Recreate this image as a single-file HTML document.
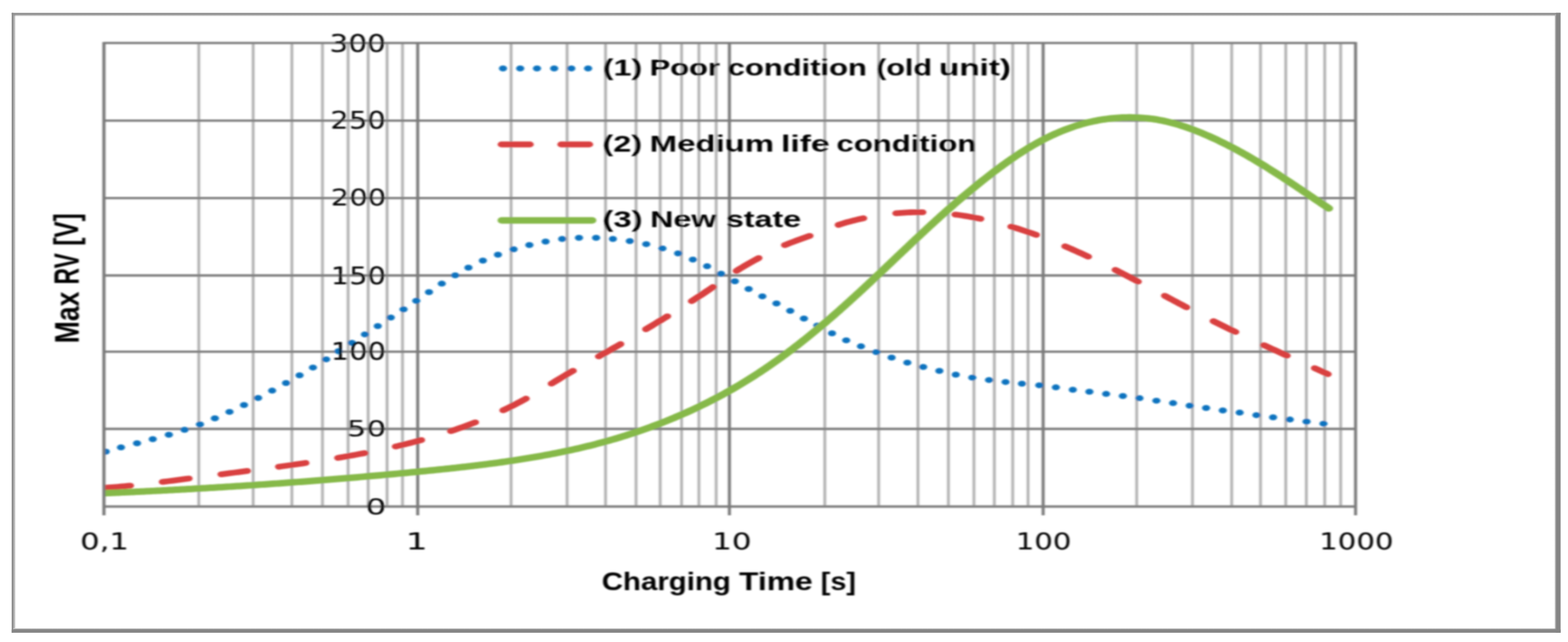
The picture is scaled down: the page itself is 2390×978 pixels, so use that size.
<!DOCTYPE html>
<html><head><meta charset="utf-8"><style>
html,body{margin:0;padding:0;background:#fff;}
body{width:2390px;height:978px;overflow:hidden;}
svg{display:block;}
</style></head><body>
<svg width="2390" height="978" viewBox="0 0 2390 978">
<defs><filter id="bl" x="0" y="0" width="100%" height="100%" filterUnits="userSpaceOnUse"><feGaussianBlur stdDeviation="1.4 1.1"/></filter></defs>
<rect width="2390" height="978" fill="#ffffff"/>
<g filter="url(#bl)">
<g stroke="#b1b1b1" stroke-width="4.2">
<line x1="303.0" y1="65.5" x2="303.0" y2="771.6"/>
<line x1="385.9" y1="65.5" x2="385.9" y2="771.6"/>
<line x1="444.9" y1="65.5" x2="444.9" y2="771.6"/>
<line x1="491.5" y1="65.5" x2="491.5" y2="771.6"/>
<line x1="530.6" y1="65.5" x2="530.6" y2="771.6"/>
<line x1="561.2" y1="65.5" x2="561.2" y2="771.6"/>
<line x1="590.0" y1="65.5" x2="590.0" y2="771.6"/>
<line x1="613.5" y1="65.5" x2="613.5" y2="771.6"/>
<line x1="779.0" y1="65.5" x2="779.0" y2="771.6"/>
<line x1="864.4" y1="65.5" x2="864.4" y2="771.6"/>
<line x1="923.0" y1="65.5" x2="923.0" y2="771.6"/>
<line x1="969.5" y1="65.5" x2="969.5" y2="771.6"/>
<line x1="1006.3" y1="65.5" x2="1006.3" y2="771.6"/>
<line x1="1038.9" y1="65.5" x2="1038.9" y2="771.6"/>
<line x1="1065.3" y1="65.5" x2="1065.3" y2="771.6"/>
<line x1="1091.6" y1="65.5" x2="1091.6" y2="771.6"/>
<line x1="1257.2" y1="65.5" x2="1257.2" y2="771.6"/>
<line x1="1339.3" y1="65.5" x2="1339.3" y2="771.6"/>
<line x1="1399.2" y1="65.5" x2="1399.2" y2="771.6"/>
<line x1="1445.6" y1="65.5" x2="1445.6" y2="771.6"/>
<line x1="1484.5" y1="65.5" x2="1484.5" y2="771.6"/>
<line x1="1515.6" y1="65.5" x2="1515.6" y2="771.6"/>
<line x1="1543.6" y1="65.5" x2="1543.6" y2="771.6"/>
<line x1="1567.0" y1="65.5" x2="1567.0" y2="771.6"/>
<line x1="1732.6" y1="65.5" x2="1732.6" y2="771.6"/>
<line x1="1817.6" y1="65.5" x2="1817.6" y2="771.6"/>
<line x1="1877.4" y1="65.5" x2="1877.4" y2="771.6"/>
<line x1="1921.3" y1="65.5" x2="1921.3" y2="771.6"/>
<line x1="1959.8" y1="65.5" x2="1959.8" y2="771.6"/>
<line x1="1991.2" y1="65.5" x2="1991.2" y2="771.6"/>
<line x1="2019.2" y1="65.5" x2="2019.2" y2="771.6"/>
<line x1="2043.5" y1="65.5" x2="2043.5" y2="771.6"/>
</g>
<g stroke="#808080" stroke-width="3.6">
<line x1="158.5" y1="65.5" x2="2066.5" y2="65.5"/>
<line x1="158.5" y1="183.7" x2="2066.5" y2="183.7"/>
<line x1="158.5" y1="301.7" x2="2066.5" y2="301.7"/>
<line x1="158.5" y1="419.6" x2="2066.5" y2="419.6"/>
<line x1="158.5" y1="535.7" x2="2066.5" y2="535.7"/>
<line x1="158.5" y1="653.4" x2="2066.5" y2="653.4"/>
<line x1="158.5" y1="771.6" x2="2066.5" y2="771.6"/>
</g><g stroke="#7a7a7a" stroke-width="4.6">
<line x1="158.3" y1="64" x2="158.3" y2="785"/>
<line x1="636.7" y1="64" x2="636.7" y2="785"/>
<line x1="1111.8" y1="64" x2="1111.8" y2="785"/>
<line x1="1590.0" y1="64" x2="1590.0" y2="785"/>
<line x1="2066.2" y1="64" x2="2066.2" y2="785"/>
</g>
<defs><clipPath id="pc"><rect x="159.3" y="40" width="1950" height="731"/></clipPath></defs>
<g clip-path="url(#pc)">
<g fill="#0a73bf">
<ellipse cx="161.2" cy="688.0" rx="6.2" ry="4.5"/>
<ellipse cx="184.4" cy="681.6" rx="6.2" ry="4.5"/>
<ellipse cx="208.9" cy="675.3" rx="6.2" ry="4.5"/>
<ellipse cx="232.8" cy="669.0" rx="6.2" ry="4.5"/>
<ellipse cx="257.4" cy="662.2" rx="6.2" ry="4.5"/>
<ellipse cx="281.3" cy="654.8" rx="6.2" ry="4.5"/>
<ellipse cx="304.8" cy="646.5" rx="6.2" ry="4.5"/>
<ellipse cx="327.5" cy="637.3" rx="6.2" ry="4.5"/>
<ellipse cx="349.8" cy="627.4" rx="6.2" ry="4.5"/>
<ellipse cx="371.9" cy="617.0" rx="6.2" ry="4.5"/>
<ellipse cx="393.4" cy="606.2" rx="6.2" ry="4.5"/>
<ellipse cx="414.8" cy="595.1" rx="6.2" ry="4.5"/>
<ellipse cx="436.0" cy="583.5" rx="6.2" ry="4.5"/>
<ellipse cx="456.6" cy="571.8" rx="6.2" ry="4.5"/>
<ellipse cx="477.0" cy="559.9" rx="6.2" ry="4.5"/>
<ellipse cx="497.1" cy="547.4" rx="6.2" ry="4.5"/>
<ellipse cx="515.9" cy="535.0" rx="6.2" ry="4.5"/>
<ellipse cx="536.3" cy="522.3" rx="6.2" ry="4.5"/>
<ellipse cx="556.2" cy="509.4" rx="6.2" ry="4.5"/>
<ellipse cx="575.8" cy="496.7" rx="6.2" ry="4.5"/>
<ellipse cx="595.6" cy="483.8" rx="6.2" ry="4.5"/>
<ellipse cx="615.1" cy="471.2" rx="6.2" ry="4.5"/>
<ellipse cx="634.5" cy="458.3" rx="6.2" ry="4.5"/>
<ellipse cx="653.9" cy="445.0" rx="6.2" ry="4.5"/>
<ellipse cx="673.4" cy="432.1" rx="6.2" ry="4.5"/>
<ellipse cx="693.8" cy="419.4" rx="6.2" ry="4.5"/>
<ellipse cx="714.0" cy="407.7" rx="6.2" ry="4.5"/>
<ellipse cx="736.0" cy="397.0" rx="6.2" ry="4.5"/>
<ellipse cx="759.0" cy="388.0" rx="6.2" ry="4.5"/>
<ellipse cx="782.8" cy="379.8" rx="6.2" ry="4.5"/>
<ellipse cx="806.9" cy="373.3" rx="6.2" ry="4.5"/>
<ellipse cx="831.6" cy="368.0" rx="6.2" ry="4.5"/>
<ellipse cx="856.9" cy="364.0" rx="6.2" ry="4.5"/>
<ellipse cx="882.5" cy="362.2" rx="6.2" ry="4.5"/>
<ellipse cx="908.6" cy="362.2" rx="6.2" ry="4.5"/>
<ellipse cx="934.2" cy="364.0" rx="6.2" ry="4.5"/>
<ellipse cx="960.0" cy="367.3" rx="6.2" ry="4.5"/>
<ellipse cx="985.0" cy="371.9" rx="6.2" ry="4.5"/>
<ellipse cx="1009.7" cy="378.4" rx="6.2" ry="4.5"/>
<ellipse cx="1033.6" cy="386.0" rx="6.2" ry="4.5"/>
<ellipse cx="1056.1" cy="395.4" rx="6.2" ry="4.5"/>
<ellipse cx="1077.8" cy="405.6" rx="6.2" ry="4.5"/>
<ellipse cx="1099.0" cy="416.9" rx="6.2" ry="4.5"/>
<ellipse cx="1120.1" cy="428.5" rx="6.2" ry="4.5"/>
<ellipse cx="1141.1" cy="440.2" rx="6.2" ry="4.5"/>
<ellipse cx="1162.0" cy="451.4" rx="6.2" ry="4.5"/>
<ellipse cx="1183.5" cy="462.2" rx="6.2" ry="4.5"/>
<ellipse cx="1204.5" cy="473.5" rx="6.2" ry="4.5"/>
<ellipse cx="1225.4" cy="485.2" rx="6.2" ry="4.5"/>
<ellipse cx="1245.8" cy="496.0" rx="6.2" ry="4.5"/>
<ellipse cx="1268.2" cy="507.7" rx="6.2" ry="4.5"/>
<ellipse cx="1289.8" cy="518.4" rx="6.2" ry="4.5"/>
<ellipse cx="1312.3" cy="527.6" rx="6.2" ry="4.5"/>
<ellipse cx="1335.6" cy="536.4" rx="6.2" ry="4.5"/>
<ellipse cx="1359.0" cy="544.7" rx="6.2" ry="4.5"/>
<ellipse cx="1383.0" cy="552.4" rx="6.2" ry="4.5"/>
<ellipse cx="1407.2" cy="559.0" rx="6.2" ry="4.5"/>
<ellipse cx="1431.8" cy="565.0" rx="6.2" ry="4.5"/>
<ellipse cx="1456.8" cy="570.7" rx="6.2" ry="4.5"/>
<ellipse cx="1482.0" cy="575.3" rx="6.2" ry="4.5"/>
<ellipse cx="1507.5" cy="578.9" rx="6.2" ry="4.5"/>
<ellipse cx="1532.7" cy="581.9" rx="6.2" ry="4.5"/>
<ellipse cx="1557.7" cy="584.5" rx="6.2" ry="4.5"/>
<ellipse cx="1584.1" cy="586.9" rx="6.2" ry="4.5"/>
<ellipse cx="1609.4" cy="590.1" rx="6.2" ry="4.5"/>
<ellipse cx="1635.2" cy="593.7" rx="6.2" ry="4.5"/>
<ellipse cx="1660.5" cy="596.8" rx="6.2" ry="4.5"/>
<ellipse cx="1686.0" cy="600.1" rx="6.2" ry="4.5"/>
<ellipse cx="1711.5" cy="603.3" rx="6.2" ry="4.5"/>
<ellipse cx="1736.8" cy="606.6" rx="6.2" ry="4.5"/>
<ellipse cx="1762.6" cy="610.4" rx="6.2" ry="4.5"/>
<ellipse cx="1788.0" cy="614.1" rx="6.2" ry="4.5"/>
<ellipse cx="1813.4" cy="618.0" rx="6.2" ry="4.5"/>
<ellipse cx="1838.4" cy="621.5" rx="6.2" ry="4.5"/>
<ellipse cx="1863.8" cy="625.2" rx="6.2" ry="4.5"/>
<ellipse cx="1889.5" cy="628.6" rx="6.2" ry="4.5"/>
<ellipse cx="1915.1" cy="632.4" rx="6.2" ry="4.5"/>
<ellipse cx="1940.5" cy="635.7" rx="6.2" ry="4.5"/>
<ellipse cx="1966.0" cy="639.1" rx="6.2" ry="4.5"/>
<ellipse cx="1991.5" cy="642.2" rx="6.2" ry="4.5"/>
<ellipse cx="2017.3" cy="645.4" rx="6.2" ry="4.5"/>
</g>
<g transform="scale(1.32,1)" fill="none" stroke="#d9413f" stroke-width="8.8" stroke-linecap="round" stroke-linejoin="round">
<path d="M119.89,743.04 L122.66,742.83 L125.42,742.59 L128.19,742.34 L130.95,742.08 L133.72,741.80 L136.49,741.51 L139.25,741.20 L142.02,740.88 L144.79,740.55 L147.56,740.21 L150.32,739.85"/>
<path d="M187.76,734.17 L190.52,733.71 L193.27,733.24 L196.03,732.77 L198.78,732.30 L201.53,731.82 L204.28,731.34 L207.03,730.87 L209.78,730.39 L212.53,729.91 L215.28,729.44 L218.02,728.96"/>
<path d="M255.48,722.56 L258.21,722.10 L260.94,721.64 L263.67,721.17 L266.40,720.71 L269.13,720.24 L271.85,719.78 L274.58,719.32 L277.31,718.85 L280.04,718.38 L282.77,717.92 L285.50,717.45"/>
<path d="M321.95,711.05 L324.77,710.54 L327.58,710.02 L330.40,709.51 L333.21,708.99 L336.03,708.47 L338.84,707.95 L341.66,707.42 L344.48,706.88 L347.29,706.35 L350.11,705.81 L352.92,705.26"/>
<path d="M390.22,697.52 L393.04,696.89 L395.86,696.25 L398.67,695.61 L401.49,694.96 L404.30,694.30 L407.11,693.63 L409.91,692.95 L412.72,692.27 L415.52,691.58 L418.32,690.87 L421.11,690.17"/>
<path d="M456.81,680.19 L459.53,679.35 L462.25,678.50 L464.96,677.64 L467.67,676.77 L470.37,675.89 L473.07,674.99 L475.76,674.09 L478.45,673.17 L481.13,672.24 L483.81,671.30 L486.48,670.34"/>
<path d="M520.62,656.77 L523.21,655.63 L525.80,654.47 L528.38,653.29 L530.95,652.10 L533.52,650.90 L536.08,649.68 L538.64,648.44 L541.18,647.19 L543.72,645.93 L546.25,644.65 L548.78,643.35"/>
<path d="M581.03,625.04 L583.47,623.50 L585.91,621.95 L588.33,620.39 L590.75,618.80 L593.15,617.21 L595.55,615.59 L597.94,613.96 L600.31,612.32 L602.68,610.65 L605.03,608.97 L607.37,607.28"/>
<path d="M636.87,584.40 L639.12,582.60 L641.36,580.80 L643.61,579.00 L645.85,577.21 L648.10,575.42 L650.35,573.63 L652.60,571.85 L654.86,570.08 L657.12,568.31 L659.39,566.56 L661.67,564.81"/>
<path d="M691.40,542.95 L693.70,541.27 L695.99,539.58 L698.28,537.89 L700.57,536.20 L702.86,534.50 L705.14,532.80 L707.42,531.09 L709.70,529.38 L711.98,527.67 L714.25,525.95 L716.52,524.23"/>
<path d="M745.87,501.55 L748.13,499.77 L750.39,497.98 L752.65,496.20 L754.91,494.40 L757.17,492.61 L759.42,490.81 L761.67,489.02 L763.92,487.21 L766.17,485.41 L768.42,483.60 L770.66,481.80"/>
<path d="M798.68,458.76 L800.95,456.83 L803.22,454.90 L805.48,452.96 L807.73,451.02 L809.98,449.06 L812.22,447.10 L814.46,445.13 L816.68,443.15 L818.90,441.17 L821.11,439.17 L823.31,437.16"/>
<path d="M850.48,412.60 L852.73,410.74 L855.00,408.91 L857.29,407.10 L859.60,405.30 L861.92,403.52 L864.25,401.76 L866.60,400.02 L868.96,398.28 L871.32,396.56 L873.69,394.84 L876.06,393.13"/>
<path d="M906.20,373.39 L908.76,372.02 L911.34,370.68 L913.93,369.37 L916.55,368.09 L919.18,366.83 L921.81,365.58 L924.45,364.34 L927.09,363.10 L929.73,361.85 L932.37,360.58 L935.00,359.30"/>
<path d="M968.19,342.62 L970.74,341.52 L973.30,340.46 L975.87,339.45 L978.45,338.47 L981.05,337.53 L983.67,336.62 L986.31,335.74 L988.96,334.90 L991.63,334.08 L994.32,333.29 L997.02,332.52"/>
<path d="M1034.79,324.90 L1037.58,324.58 L1040.38,324.30 L1043.16,324.05 L1045.95,323.83 L1048.73,323.65 L1051.51,323.51 L1054.29,323.40 L1057.06,323.33 L1059.83,323.28 L1062.60,323.28 L1065.36,323.30"/>
<path d="M1102.99,326.80 L1105.67,327.27 L1108.35,327.76 L1111.03,328.28 L1113.70,328.82 L1116.36,329.39 L1119.03,329.99 L1121.68,330.61 L1124.34,331.26 L1126.99,331.93 L1129.63,332.62 L1132.27,333.34"/>
<path d="M1167.62,345.22 L1170.27,346.27 L1172.92,347.35 L1175.56,348.44 L1178.20,349.55 L1180.83,350.68 L1183.45,351.83 L1186.06,352.99 L1188.67,354.17 L1191.28,355.37 L1193.87,356.58 L1196.46,357.81"/>
<path d="M1229.94,375.24 L1232.39,376.63 L1234.84,378.02 L1237.28,379.42 L1239.71,380.84 L1242.14,382.26 L1244.56,383.69 L1246.98,385.12 L1249.39,386.57 L1251.79,388.02 L1254.19,389.49 L1256.58,390.96"/>
<path d="M1287.96,411.16 L1290.35,412.76 L1292.74,414.36 L1295.13,415.97 L1297.51,417.58 L1299.89,419.20 L1302.27,420.83 L1304.65,422.45 L1307.02,424.08 L1309.39,425.71 L1311.76,427.35 L1314.12,428.99"/>
<path d="M1344.99,450.60 L1347.26,452.20 L1349.54,453.80 L1351.81,455.40 L1354.09,456.99 L1356.36,458.59 L1358.64,460.18 L1360.92,461.78 L1363.20,463.37 L1365.48,464.96 L1367.76,466.55 L1370.05,468.13"/>
<path d="M1401.13,489.21 L1403.43,490.72 L1405.74,492.23 L1408.05,493.74 L1410.36,495.24 L1412.68,496.74 L1415.00,498.23 L1417.32,499.72 L1419.65,501.21 L1421.98,502.69 L1424.31,504.16 L1426.65,505.64"/>
<path d="M1459.53,525.88 L1461.94,527.33 L1464.35,528.79 L1466.76,530.24 L1469.17,531.69 L1471.59,533.13 L1474.00,534.58 L1476.42,536.02 L1478.83,537.47 L1481.25,538.91 L1483.66,540.35 L1486.08,541.79"/>
<path d="M1518.12,560.84 L1519.51,561.67 L1520.90,562.50 L1522.29,563.33 L1523.68,564.16 L1525.07,564.99 L1526.45,565.82 L1527.84,566.65 L1529.22,567.48 L1530.61,568.31 L1531.99,569.14 L1533.37,569.97"/>
</g>
<g transform="scale(1.32,1)"><path d="M120.02,751.36 L122.40,751.23 L124.78,751.09 L127.16,750.96 L129.55,750.82 L131.93,750.68 L134.31,750.54 L136.69,750.40 L139.07,750.26 L141.45,750.12 L143.82,749.97 L146.20,749.83 L148.58,749.68 L150.96,749.54 L153.34,749.39 L155.71,749.24 L158.09,749.10 L160.47,748.95 L162.84,748.79 L165.22,748.64 L167.59,748.49 L169.97,748.34 L172.34,748.18 L174.72,748.03 L177.09,747.87 L179.46,747.71 L181.84,747.55 L184.21,747.40 L186.58,747.24 L188.96,747.07 L191.33,746.91 L193.70,746.75 L196.07,746.58 L198.44,746.42 L200.81,746.25 L203.18,746.09 L205.55,745.92 L207.92,745.75 L210.29,745.58 L212.66,745.41 L215.03,745.23 L217.40,745.06 L219.77,744.89 L222.14,744.71 L224.51,744.54 L226.87,744.36 L229.24,744.18 L231.61,744.00 L233.98,743.82 L236.34,743.64 L238.71,743.46 L241.08,743.27 L243.44,743.09 L245.81,742.90 L248.17,742.72 L250.54,742.53 L252.90,742.34 L255.27,742.15 L257.63,741.96 L260.00,741.77 L262.36,741.57 L264.73,741.38 L267.09,741.19 L269.46,740.99 L271.82,740.79 L274.18,740.59 L276.55,740.40 L278.91,740.19 L281.27,739.99 L283.64,739.79 L286.00,739.59 L288.36,739.38 L290.72,739.18 L293.09,738.97 L295.45,738.76 L297.81,738.55 L300.17,738.34 L302.53,738.13 L304.89,737.92 L307.26,737.71 L309.62,737.49 L311.98,737.28 L314.34,737.06 L316.70,736.84 L319.06,736.62 L321.42,736.40 L323.78,736.18 L326.14,735.96 L328.50,735.74 L330.86,735.51 L333.22,735.29 L335.58,735.06 L337.94,734.83 L340.30,734.60 L342.66,734.37 L345.02,734.14 L347.38,733.91 L349.74,733.67 L352.10,733.44 L354.46,733.20 L356.82,732.97 L359.17,732.73 L361.53,732.49 L363.89,732.25 L366.25,732.00 L368.61,731.76 L370.97,731.52 L373.33,731.27 L375.69,731.03 L378.05,730.78 L380.40,730.53 L382.76,730.28 L385.12,730.03 L387.48,729.78 L389.84,729.52 L392.20,729.27 L394.56,729.01 L396.91,728.75 L399.27,728.49 L401.63,728.24 L403.99,727.97 L406.35,727.71 L408.71,727.45 L411.06,727.18 L413.42,726.92 L415.78,726.65 L418.14,726.38 L420.50,726.11 L422.86,725.84 L425.22,725.57 L427.57,725.30 L429.93,725.02 L432.29,724.75 L434.65,724.47 L437.01,724.19 L439.37,723.91 L441.73,723.63 L444.09,723.35 L446.45,723.07 L448.80,722.78 L451.16,722.50 L453.52,722.21 L455.88,721.92 L458.24,721.63 L460.60,721.34 L462.96,721.05 L465.32,720.76 L467.68,720.46 L470.04,720.17 L472.40,719.87 L474.76,719.57 L477.12,719.27 L479.48,718.97 L481.84,718.67 L484.20,718.37 L486.56,718.06 L488.92,717.75 L491.28,717.45 L493.64,717.14 L496.01,716.83 L498.37,716.51 L500.73,716.20 L503.09,715.88 L505.45,715.57 L507.81,715.24 L510.17,714.92 L512.53,714.60 L514.89,714.27 L517.25,713.94 L519.60,713.61 L521.96,713.27 L524.32,712.94 L526.68,712.60 L529.04,712.25 L531.39,711.91 L533.75,711.56 L536.10,711.20 L538.46,710.85 L540.81,710.49 L543.17,710.13 L545.52,709.76 L547.87,709.39 L550.22,709.02 L552.57,708.64 L554.92,708.26 L557.27,707.87 L559.62,707.48 L561.96,707.09 L564.31,706.69 L566.65,706.29 L569.00,705.88 L571.34,705.47 L573.68,705.06 L576.02,704.64 L578.36,704.21 L580.70,703.78 L583.03,703.35 L585.37,702.91 L587.70,702.46 L590.03,702.01 L592.36,701.55 L594.69,701.09 L597.02,700.63 L599.35,700.15 L601.67,699.67 L604.00,699.19 L606.32,698.70 L608.64,698.20 L610.96,697.70 L613.27,697.19 L615.59,696.68 L617.90,696.16 L620.21,695.63 L622.52,695.10 L624.83,694.56 L627.13,694.01 L629.44,693.46 L631.74,692.90 L634.04,692.33 L636.33,691.75 L638.63,691.17 L640.92,690.58 L643.21,689.99 L645.50,689.38 L647.79,688.77 L650.07,688.15 L652.35,687.52 L654.63,686.89 L656.91,686.25 L659.19,685.60 L661.46,684.94 L663.73,684.27 L666.00,683.60 L668.26,682.91 L670.52,682.22 L672.78,681.52 L675.04,680.81 L677.29,680.10 L679.54,679.37 L681.79,678.63 L684.04,677.89 L686.28,677.14 L688.52,676.37 L690.76,675.60 L692.99,674.82 L695.23,674.03 L697.45,673.23 L699.68,672.42 L701.90,671.60 L704.12,670.77 L706.34,669.94 L708.55,669.09 L710.76,668.23 L712.97,667.36 L715.17,666.49 L717.37,665.60 L719.56,664.71 L721.76,663.80 L723.95,662.89 L726.13,661.97 L728.31,661.03 L730.49,660.09 L732.67,659.14 L734.84,658.18 L737.00,657.21 L739.17,656.23 L741.33,655.24 L743.48,654.24 L745.63,653.24 L747.78,652.22 L749.92,651.20 L752.06,650.16 L754.20,649.12 L756.33,648.07 L758.45,647.01 L760.57,645.94 L762.69,644.86 L764.81,643.77 L766.91,642.67 L769.02,641.57 L771.12,640.45 L773.21,639.33 L775.30,638.19 L777.39,637.05 L779.47,635.90 L781.55,634.74 L783.62,633.58 L785.68,632.40 L787.75,631.21 L789.80,630.02 L791.85,628.82 L793.90,627.61 L795.94,626.39 L797.98,625.16 L800.01,623.92 L802.04,622.67 L804.06,621.42 L806.07,620.16 L808.08,618.89 L810.09,617.61 L812.09,616.32 L814.08,615.02 L816.07,613.72 L818.05,612.40 L820.03,611.08 L822.00,609.75 L823.96,608.41 L825.92,607.06 L827.88,605.71 L829.83,604.35 L831.77,602.97 L833.70,601.59 L835.63,600.21 L837.56,598.81 L839.48,597.41 L841.39,595.99 L843.29,594.57 L845.19,593.14 L847.09,591.71 L848.97,590.26 L850.85,588.81 L852.73,587.35 L854.60,585.88 L856.46,584.41 L858.31,582.92 L860.17,581.43 L862.01,579.93 L863.85,578.43 L865.68,576.92 L867.51,575.40 L869.33,573.87 L871.14,572.34 L872.95,570.79 L874.76,569.25 L876.56,567.69 L878.35,566.13 L880.14,564.56 L881.92,562.99 L883.69,561.41 L885.46,559.82 L887.23,558.23 L888.99,556.63 L890.74,555.03 L892.49,553.41 L894.24,551.80 L895.98,550.17 L897.71,548.55 L899.44,546.91 L901.16,545.27 L902.88,543.62 L904.60,541.97 L906.31,540.32 L908.01,538.66 L909.71,536.99 L911.40,535.32 L913.09,533.64 L914.78,531.96 L916.46,530.27 L918.13,528.58 L919.81,526.88 L921.47,525.18 L923.13,523.48 L924.79,521.77 L926.44,520.05 L928.09,518.33 L929.74,516.61 L931.38,514.88 L933.01,513.15 L934.64,511.41 L936.27,509.68 L937.90,507.93 L939.51,506.19 L941.13,504.44 L942.74,502.68 L944.35,500.92 L945.95,499.16 L947.55,497.40 L949.14,495.63 L950.74,493.86 L952.32,492.09 L953.91,490.31 L955.49,488.53 L957.06,486.75 L958.64,484.96 L960.20,483.17 L961.77,481.38 L963.33,479.59 L964.89,477.79 L966.45,476.00 L968.00,474.20 L969.55,472.39 L971.09,470.59 L972.63,468.78 L974.17,466.97 L975.71,465.16 L977.24,463.35 L978.77,461.54 L980.30,459.72 L981.82,457.90 L983.34,456.09 L984.86,454.27 L986.37,452.44 L987.88,450.62 L989.39,448.80 L990.90,446.97 L992.40,445.14 L993.91,443.31 L995.41,441.49 L996.91,439.66 L998.40,437.82 L999.90,435.99 L1001.39,434.16 L1002.88,432.32 L1004.37,430.49 L1005.85,428.65 L1007.34,426.81 L1008.82,424.98 L1010.30,423.14 L1011.79,421.30 L1013.27,419.46 L1014.74,417.62 L1016.22,415.78 L1017.70,413.94 L1019.17,412.10 L1020.65,410.26 L1022.12,408.41 L1023.60,406.57 L1025.07,404.73 L1026.54,402.89 L1028.02,401.04 L1029.49,399.20 L1030.96,397.36 L1032.43,395.51 L1033.90,393.67 L1035.37,391.83 L1036.85,389.99 L1038.32,388.14 L1039.79,386.30 L1041.26,384.46 L1042.74,382.62 L1044.21,380.78 L1045.68,378.94 L1047.16,377.10 L1048.64,375.26 L1050.11,373.42 L1051.59,371.58 L1053.07,369.74 L1054.55,367.91 L1056.03,366.07 L1057.51,364.24 L1059.00,362.40 L1060.48,360.57 L1061.97,358.74 L1063.46,356.90 L1064.95,355.07 L1066.44,353.24 L1067.93,351.42 L1069.43,349.59 L1070.93,347.76 L1072.43,345.94 L1073.93,344.12 L1075.43,342.29 L1076.94,340.47 L1078.45,338.66 L1079.96,336.84 L1081.48,335.02 L1082.99,333.21 L1084.51,331.40 L1086.04,329.59 L1087.56,327.78 L1089.09,325.97 L1090.62,324.17 L1092.16,322.36 L1093.70,320.56 L1095.24,318.76 L1096.79,316.97 L1098.34,315.17 L1099.89,313.38 L1101.44,311.59 L1103.01,309.80 L1104.57,308.01 L1106.14,306.23 L1107.71,304.45 L1109.29,302.67 L1110.87,300.89 L1112.45,299.12 L1114.04,297.35 L1115.64,295.58 L1117.24,293.81 L1118.84,292.05 L1120.45,290.29 L1122.06,288.53 L1123.68,286.78 L1125.30,285.02 L1126.93,283.28 L1128.56,281.53 L1130.20,279.79 L1131.84,278.05 L1133.49,276.31 L1135.15,274.58 L1136.81,272.85 L1138.48,271.12 L1140.15,269.40 L1141.82,267.68 L1143.51,265.96 L1145.20,264.25 L1146.89,262.54 L1148.59,260.83 L1150.30,259.13 L1152.02,257.43 L1153.74,255.74 L1155.47,254.06 L1157.20,252.38 L1158.94,250.70 L1160.69,249.04 L1162.45,247.38 L1164.21,245.73 L1165.98,244.09 L1167.75,242.46 L1169.54,240.84 L1171.33,239.23 L1173.13,237.63 L1174.94,236.04 L1176.75,234.46 L1178.58,232.90 L1180.41,231.34 L1182.25,229.80 L1184.10,228.28 L1185.95,226.76 L1187.82,225.27 L1189.69,223.78 L1191.57,222.32 L1193.47,220.86 L1195.37,219.43 L1197.28,218.01 L1199.19,216.61 L1201.12,215.22 L1203.06,213.86 L1205.01,212.51 L1206.96,211.19 L1208.93,209.88 L1210.90,208.59 L1212.89,207.32 L1214.88,206.08 L1216.89,204.86 L1218.91,203.65 L1220.93,202.48 L1222.97,201.32 L1225.02,200.19 L1227.08,199.08 L1229.14,197.99 L1231.22,196.94 L1233.32,195.90 L1235.42,194.90 L1237.53,193.91 L1239.65,192.96 L1241.79,192.03 L1243.94,191.14 L1246.10,190.27 L1248.27,189.42 L1250.45,188.61 L1252.64,187.83 L1254.85,187.08 L1257.07,186.36 L1259.30,185.67 L1261.54,185.01 L1263.80,184.38 L1266.06,183.79 L1268.34,183.22 L1270.63,182.69 L1272.92,182.20 L1275.22,181.74 L1277.53,181.31 L1279.85,180.91 L1282.18,180.55 L1284.51,180.22 L1286.84,179.93 L1289.18,179.67 L1291.53,179.45 L1293.88,179.26 L1296.23,179.11 L1298.58,178.99 L1300.93,178.91 L1303.29,178.87 L1305.64,178.86 L1308.00,178.89 L1310.35,178.96 L1312.70,179.07 L1315.05,179.21 L1317.40,179.39 L1319.74,179.61 L1322.08,179.87 L1324.41,180.16 L1326.74,180.50 L1329.06,180.87 L1331.37,181.29 L1333.68,181.74 L1335.98,182.23 L1338.27,182.76 L1340.55,183.33 L1342.83,183.94 L1345.10,184.58 L1347.36,185.25 L1349.61,185.96 L1351.85,186.70 L1354.09,187.47 L1356.32,188.27 L1358.54,189.10 L1360.75,189.96 L1362.96,190.85 L1365.16,191.77 L1367.35,192.71 L1369.53,193.68 L1371.70,194.67 L1373.87,195.68 L1376.02,196.72 L1378.17,197.78 L1380.31,198.86 L1382.44,199.96 L1384.57,201.08 L1386.68,202.22 L1388.79,203.37 L1390.89,204.54 L1392.97,205.73 L1395.06,206.92 L1397.13,208.14 L1399.19,209.36 L1401.25,210.60 L1403.29,211.85 L1405.33,213.11 L1407.36,214.38 L1409.38,215.67 L1411.40,216.96 L1413.40,218.27 L1415.40,219.58 L1417.39,220.91 L1419.38,222.24 L1421.35,223.59 L1423.32,224.94 L1425.28,226.31 L1427.23,227.68 L1429.18,229.07 L1431.12,230.46 L1433.06,231.86 L1434.98,233.27 L1436.90,234.68 L1438.82,236.11 L1440.73,237.54 L1442.63,238.98 L1444.53,240.43 L1446.42,241.88 L1448.30,243.34 L1450.18,244.81 L1452.05,246.28 L1453.92,247.76 L1455.78,249.25 L1457.64,250.74 L1459.50,252.24 L1461.34,253.74 L1463.19,255.25 L1465.02,256.77 L1466.86,258.28 L1468.69,259.81 L1470.51,261.33 L1472.34,262.87 L1474.15,264.40 L1475.97,265.94 L1477.78,267.48 L1479.58,269.03 L1481.38,270.58 L1483.18,272.13 L1484.98,273.68 L1486.77,275.24 L1488.56,276.80 L1490.35,278.36 L1492.13,279.92 L1493.91,281.49 L1495.69,283.05 L1497.46,284.62 L1499.24,286.19 L1501.01,287.76 L1502.78,289.33 L1504.55,290.90 L1506.31,292.47 L1508.07,294.04 L1509.84,295.61 L1511.60,297.17 L1513.35,298.74 L1515.11,300.31 L1516.87,301.88 L1518.62,303.44 L1520.38,305.00 L1522.13,306.57 L1523.89,308.12 L1525.64,309.68 L1527.39,311.24 L1529.14,312.79 L1530.89,314.34 L1532.65,315.88 L1534.40,317.43" fill="none" stroke="#86b94a" stroke-width="10" stroke-linecap="round" stroke-linejoin="round"/></g>
</g>
<line x1="158.3" y1="64" x2="158.3" y2="785" stroke="#7a7a7a" stroke-width="4.6"/>
<ellipse cx="766.7" cy="104.3" rx="6.2" ry="4.5" fill="#0a73bf"/>
<ellipse cx="792.9" cy="104.3" rx="6.2" ry="4.5" fill="#0a73bf"/>
<ellipse cx="818.5" cy="104.3" rx="6.2" ry="4.5" fill="#0a73bf"/>
<ellipse cx="844.7" cy="104.3" rx="6.2" ry="4.5" fill="#0a73bf"/>
<ellipse cx="870.8" cy="104.3" rx="6.2" ry="4.5" fill="#0a73bf"/>
<ellipse cx="896.4" cy="104.3" rx="6.2" ry="4.5" fill="#0a73bf"/>
<g transform="scale(1.32,1)" stroke="#d9413f" stroke-width="8.8" stroke-linecap="round"><line x1="579.02" y1="220" x2="611.97" y2="220"/><line x1="647.95" y1="220" x2="680.53" y2="220"/></g>
<g transform="scale(1.32,1)" stroke="#86b94a" stroke-width="10" stroke-linecap="round"><line x1="579.55" y1="335.8" x2="683.64" y2="335.8"/></g>
<g font-family="'Liberation Sans', Arial, sans-serif" fill="#000"><text x="502.37" y="78.52" font-size="36.91" font-family="'DejaVu Sans', 'Liberation Sans', sans-serif" text-anchor="start" textLength="85.67" lengthAdjust="spacingAndGlyphs">300</text><text x="503.41" y="195.94" font-size="37.1" font-family="'DejaVu Sans', 'Liberation Sans', sans-serif" text-anchor="start" textLength="84.68" lengthAdjust="spacingAndGlyphs">250</text><text x="504.37" y="313.48" font-size="35.46" font-family="'DejaVu Sans', 'Liberation Sans', sans-serif" text-anchor="start" textLength="84.18" lengthAdjust="spacingAndGlyphs">200</text><text x="504.29" y="432.5" font-size="37.1" font-family="'DejaVu Sans', 'Liberation Sans', sans-serif" text-anchor="start" textLength="83.88" lengthAdjust="spacingAndGlyphs">150</text><text x="504.29" y="547.94" font-size="37.1" font-family="'DejaVu Sans', 'Liberation Sans', sans-serif" text-anchor="start" textLength="83.88" lengthAdjust="spacingAndGlyphs">100</text><text x="528.34" y="665.0" font-size="32.95" font-family="'DejaVu Sans', 'Liberation Sans', sans-serif" text-anchor="start" textLength="60.31" lengthAdjust="spacingAndGlyphs">50</text><text x="557.22" y="783.5" font-size="33.24" font-family="'DejaVu Sans', 'Liberation Sans', sans-serif" text-anchor="start" textLength="31.62" lengthAdjust="spacingAndGlyphs">0</text><text x="122.32" y="836.53" font-size="35.66" font-family="'DejaVu Sans', 'Liberation Sans', sans-serif" text-anchor="start" textLength="74.06" lengthAdjust="spacingAndGlyphs">0,1</text><text x="618.26" y="836.53" font-size="36.21" font-family="'DejaVu Sans', 'Liberation Sans', sans-serif" text-anchor="start" textLength="33.63" lengthAdjust="spacingAndGlyphs">1</text><text x="1085.53" y="836.53" font-size="36.21" font-family="'DejaVu Sans', 'Liberation Sans', sans-serif" text-anchor="start" textLength="60.14" lengthAdjust="spacingAndGlyphs">10</text><text x="1548.25" y="836.53" font-size="36.21" font-family="'DejaVu Sans', 'Liberation Sans', sans-serif" text-anchor="start" textLength="84.9" lengthAdjust="spacingAndGlyphs">100</text><text x="2010.81" y="836.53" font-size="36.21" font-family="'DejaVu Sans', 'Liberation Sans', sans-serif" text-anchor="start" textLength="113.24" lengthAdjust="spacingAndGlyphs">1000</text><text transform="translate(119.88,523.08) scale(1.32,1) rotate(-90)" x="0" y="0" font-size="39.28" font-weight="bold" textLength="78.78" lengthAdjust="spacingAndGlyphs">Max</text><text transform="translate(120.32,433.18) scale(1.32,1) rotate(-90)" x="0" y="0" font-size="40.69" font-weight="bold" textLength="47.39" lengthAdjust="spacingAndGlyphs">RV</text><text transform="translate(118.75,374.35) scale(1.32,1) rotate(-90)" x="0" y="0" font-size="39.55" font-weight="bold" textLength="49.54" lengthAdjust="spacingAndGlyphs">[V]</text><text x="918.88" y="114.7" font-size="35.6" font-weight="bold" text-anchor="start" textLength="59.99" lengthAdjust="spacingAndGlyphs">(1)</text><text x="990.19" y="114.7" font-size="35.6" font-weight="bold" text-anchor="start" textLength="107.25" lengthAdjust="spacingAndGlyphs">Poor</text><text x="1109.34" y="114.7" font-size="35.6" font-weight="bold" text-anchor="start" textLength="211.95" lengthAdjust="spacingAndGlyphs">condition</text><text x="1335.44" y="114.7" font-size="35.6" font-weight="bold" text-anchor="start" textLength="85.12" lengthAdjust="spacingAndGlyphs">(old</text><text x="1431.21" y="114.7" font-size="35.6" font-weight="bold" text-anchor="start" textLength="109.75" lengthAdjust="spacingAndGlyphs">unit)</text><text x="918.38" y="230.6" font-size="35.6" font-weight="bold" text-anchor="start" textLength="60.35" lengthAdjust="spacingAndGlyphs">(2)</text><text x="990.38" y="230.6" font-size="35.6" font-weight="bold" text-anchor="start" textLength="189.46" lengthAdjust="spacingAndGlyphs">Medium</text><text x="1190.55" y="230.6" font-size="35.6" font-weight="bold" text-anchor="start" textLength="73.84" lengthAdjust="spacingAndGlyphs">life</text><text x="1275.14" y="230.6" font-size="35.6" font-weight="bold" text-anchor="start" textLength="212.95" lengthAdjust="spacingAndGlyphs">condition</text><text x="918.37" y="346.1" font-size="35.6" font-weight="bold" text-anchor="start" textLength="60.89" lengthAdjust="spacingAndGlyphs">(3)</text><text x="990.91" y="346.1" font-size="35.6" font-weight="bold" text-anchor="start" textLength="101.09" lengthAdjust="spacingAndGlyphs">New</text><text x="1106.44" y="346.1" font-size="35.6" font-weight="bold" text-anchor="start" textLength="114.63" lengthAdjust="spacingAndGlyphs">state</text><text x="917.22" y="899" font-size="39.2" font-weight="bold" text-anchor="start" textLength="196.75" lengthAdjust="spacingAndGlyphs">Charging</text><text x="1126.55" y="899" font-size="39.2" font-weight="bold" text-anchor="start" textLength="112.1" lengthAdjust="spacingAndGlyphs">Time</text><text x="1251.04" y="899" font-size="39.2" font-weight="bold" text-anchor="start" textLength="53.7" lengthAdjust="spacingAndGlyphs">[s]</text></g>
</g>
<defs><linearGradient id="gl" x1="0" y1="0" x2="1" y2="0"><stop offset="0" stop-color="#8b8b8b"/><stop offset="1" stop-color="#8b8b8b" stop-opacity="0"/></linearGradient><linearGradient id="gt" x1="0" y1="0" x2="0" y2="1"><stop offset="0" stop-color="#8b8b8b"/><stop offset="1" stop-color="#8b8b8b" stop-opacity="0"/></linearGradient><linearGradient id="gr" x1="0" y1="0" x2="1" y2="0"><stop offset="0" stop-color="#858585" stop-opacity="0"/><stop offset="1" stop-color="#858585"/></linearGradient><linearGradient id="gb" x1="0" y1="0" x2="0" y2="1"><stop offset="0" stop-color="#858585" stop-opacity="0"/><stop offset="1" stop-color="#858585"/></linearGradient></defs>
<rect x="20.4" y="21.9" width="3.8" height="935" fill="url(#gl)"/>
<rect x="20.4" y="21.9" width="2350" height="3.2" fill="url(#gt)"/>
<rect x="2369.2" y="21.9" width="2.5" height="937" fill="url(#gr)"/>
<rect x="20.4" y="956.5" width="2351.3" height="2.5" fill="url(#gb)"/>
<rect x="17.8" y="19.6" width="2.6" height="944.3" fill="#8b8b8b"/>
<rect x="17.8" y="19.6" width="2360.9" height="2.3" fill="#8b8b8b"/>
<rect x="2371.7" y="19.6" width="7.0" height="944.3" fill="#858585"/>
<rect x="17.8" y="959" width="2360.9" height="4.9" fill="#858585"/>
</svg>
</body></html>
